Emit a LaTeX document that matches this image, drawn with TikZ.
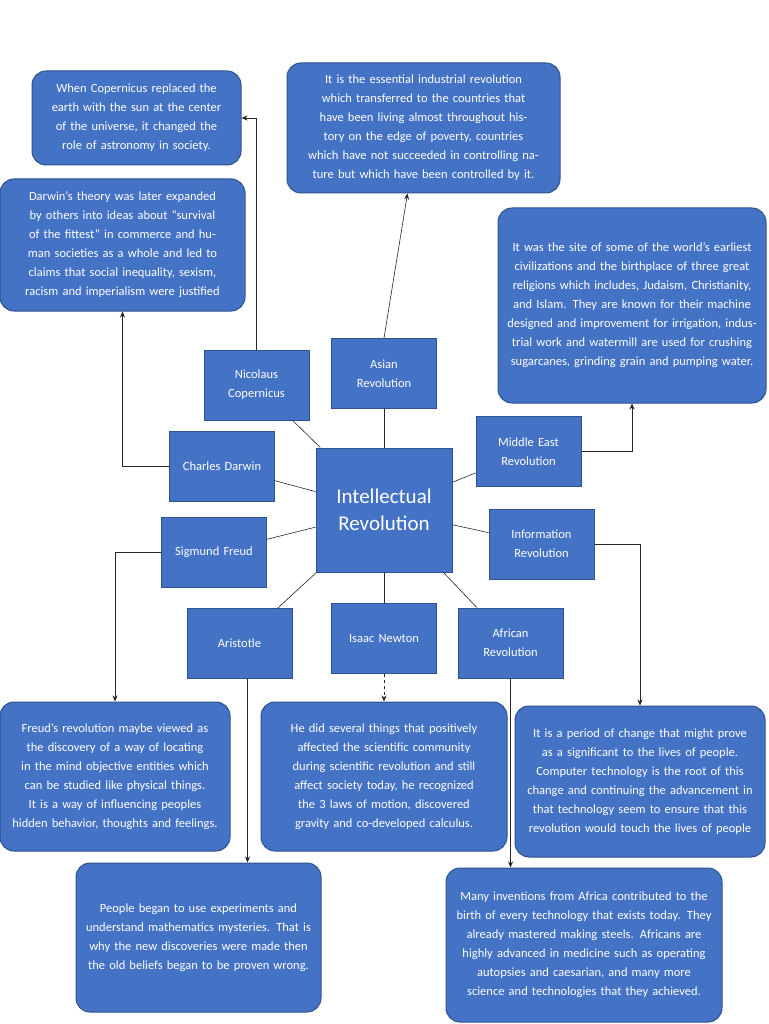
\documentclass[tikz,border=0pt]{standalone}
\usepackage{fontspec}
\setmainfont{Carlito}
\usetikzlibrary{arrows.meta}
\definecolor{bfill}{HTML}{4472C4}
\definecolor{bline}{HTML}{2F528F}
\begin{document}
\begin{tikzpicture}[x=1pt,y=-1pt,
 base/.style={fill=bfill,draw=bline,line width=1pt,text=white,align=center,inner sep=3pt,font=\fontsize{12.5}{19}\selectfont},
 txt/.style={base,rounded corners=14pt},
 sq/.style={base,minimum width=105pt,minimum height=70pt,text width=90pt},
 ln/.style={draw=black!85,line width=0.6pt},
 ar/.style={ln,-{Stealth[length=6pt,width=5pt]}}]
\useasboundingbox (0,0) rectangle (768,1024);
\fill[white] (0,0) rectangle (768,1024);
\newcommand{\tb}[6]{\node[txt,minimum width=#4pt,minimum height=#5pt,text width=#4pt-14pt] (#1) at (#2,#3) {#6};}
\tb{copt}{136.5}{118}{209}{94}{When Copernicus replaced the earth with the sun at the center of the universe, it changed the role of astronomy in society.}
\tb{at}{423.5}{128}{273}{130}{It is the essential industrial revolution which transferred to the countries that have been living almost throughout history on the edge of poverty, countries which have not succeeded in controlling nature but which have been controlled by it.}
\tb{dt}{122.5}{245}{245}{132}{Darwin’s theory was later expanded by others into ideas about “survival of the fittest” in commerce and human societies as a whole and led to claims that social inequality, sexism, racism and imperialism were justified}
\tb{met}{632}{305.5}{268}{195}{It was the site of some of the world’s earliest civilizations and the birthplace of three great religions which includes, Judaism, Christianity, and Islam. They are known for their machine designed and improvement for irrigation, industrial work and watermill are used for crushing sugarcanes, grinding grain and pumping water.}
\tb{ft}{115}{776.5}{230}{149}{Freud’s revolution maybe viewed as the discovery of a way of locating in the mind objective entities which can be studied like physical things. It is a way of influencing peoples hidden behavior, thoughts and feelings.}
\tb{nt}{384}{776.5}{246}{149}{He did several things that positively affected the scientific community during scientific revolution and still affect society today, he recognized the 3 laws of motion, discovered gravity and co-developed calculus.}
\tb{it}{640}{781.5}{250}{151}{It is a period of change that might prove as a significant to the lives of people. Computer technology is the root of this change and continuing the advancement in that technology seem to ensure that this revolution would touch the lives of people}
\tb{art}{198.5}{937.5}{245}{149}{People began to use experiments and understand mathematics mysteries. That is why the new discoveries were made then the old beliefs began to be proven wrong.}
\tb{aft}{584}{945}{276}{154}{Many inventions from Africa contributed to the birth of every technology that exists today. They already mastered making steels. Africans are highly advanced in medicine such as operating autopsies and caesarian, and many more science and technologies that they achieved.}
\node[sq] (nc) at (256.5,385) {Nicolaus\\Copernicus};
\node[sq] (asr) at (384,373.5) {Asian\\Revolution};
\node[sq] (cd) at (222,466.5) {Charles Darwin};
\node[base,minimum width=136pt,minimum height=124pt,font=\fontsize{21}{27}\selectfont] (ir) at (384,510) {Intellectual\\Revolution};
\node[sq] (me) at (528.5,451.5) {Middle East\\Revolution};
\node[sq] (inf) at (541.5,544) {Information\\Revolution};
\node[sq] (sf) at (214,552.5) {Sigmund Freud};
\node[sq] (ari) at (239.5,643.5) {Aristotle};
\node[sq] (in) at (384,638.5) {Isaac Newton};
\node[sq] (af) at (510.5,643) {African\\Revolution};
\foreach \n in {nc,asr,cd,me,inf,sf,ari,in,af} \draw[ln] (ir) -- (\n);
\draw[ar] (nc.north) |- (copt.east);
\draw[ar] (asr.north) -- ([xshift=-16pt]at.south);
\draw[ar] (cd.west) -| (dt.south);
\draw[ar] (me.east) -| (met.south);
\draw[ar] (sf.west) -| (ft.north);
\draw[ar] (inf.east) -| (it.north);
\draw[ar] ([xshift=8pt]ari.south) -- ([xshift=8pt]ari.south |- art.north);
\draw[ar,dashed] (in.south) -- (nt.north);
\draw[ar] (af.south) -- (af.south |- aft.north);
\end{tikzpicture}
\end{document}
